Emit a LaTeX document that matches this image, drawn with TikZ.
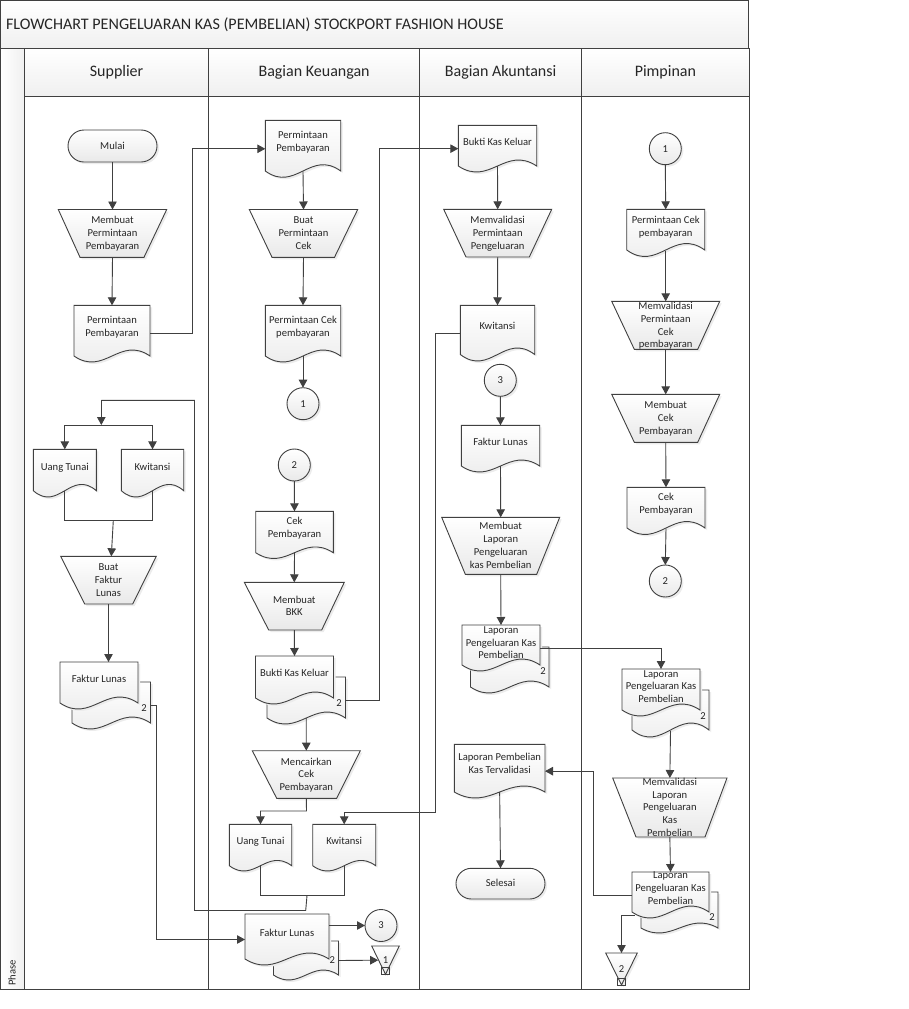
\documentclass[tikz,border=0pt]{standalone}
\usepackage{fontspec}
\setmainfont{Carlito}
\usetikzlibrary{arrows.meta,calc}
\definecolor{linec}{HTML}{404040}
\definecolor{txtc}{HTML}{262626}
\definecolor{shadc}{HTML}{ECECEC}
\definecolor{fillb}{HTML}{E9E9E9}
\tikzset{
  x=1pt,y=-1pt,
  shapeline/.style={draw=linec,line width=0.9pt,top color=white,bottom color=fillb},
  shadowshape/.style={fill=shadc,draw=none},
  box/.style={inner sep=0pt,outer sep=0pt,text=txtc,font=\fontsize{10.6}{12.8}\selectfont},
  band/.style={draw=linec,line width=1.1pt,inner sep=0pt,outer sep=0pt,top color=white,bottom color=fillb!70!white,text=txtc,font=\fontsize{16}{19}\selectfont},
  conn/.style={draw=linec,line width=0.9pt},
  flow/.style={conn,-{Triangle[length=8pt,width=8.5pt]}},
  round shape/.style={box,shapeline,line width=0.9pt},
}
\newcommand\tx[2]{\raisebox{\dimexpr#1pt-3.5pt}[0pt][0pt]{\makebox[0pt]{\begin{tabular}{@{}c@{}}#2\end{tabular}}}}
\newcommand\docout[5]{%
  \pgfmathsetmacro\dw{#2-#1}\pgfmathsetmacro\doff{3.46*(#5-#4)}%
  \pgfmathsetmacro\dca{#1+.6*\dw}\pgfmathsetmacro\dcb{#1+.4*\dw}%
  \pgfmathsetmacro\dya{#4-\doff}\pgfmathsetmacro\dyb{#4+\doff}%
  \fill[shadowshape,shift={(2,2)}] (#1,#3)--(#2,#3)--(#2,#4) .. controls (\dca,\dya) and (\dcb,\dyb) .. (#1,#4)--cycle;
  \path[shapeline] (#1,#3)--(#2,#3)--(#2,#4) .. controls (\dca,\dya) and (\dcb,\dyb) .. (#1,#4)--cycle;
}
% name x0 x1 top yb min textcentre text
\newcommand\docnode[8]{%
  \docout{#2}{#3}{#4}{#5}{#6}%
  \pgfmathsetmacro\ncx{(#2+#3)/2}\pgfmathsetmacro\ncy{(#4+#6)/2}%
  \pgfmathsetmacro\nw{#3-#2}\pgfmathsetmacro\nh{#6-#4}\pgfmathsetmacro\ndy{\ncy-#7}%
  \node[box,minimum width=\nw pt,minimum height=\nh pt] (#1) at (\ncx,\ncy) {\tx{\ndy}{#8}};
}
% name x0 x1 bx0 bx1 top bottom text
\newcommand\trapnode[8]{%
  \fill[shadowshape,shift={(2,2)}] (#2,#6)--(#3,#6)--(#5,#7)--(#4,#7)--cycle;
  \path[shapeline] (#2,#6)--(#3,#6)--(#5,#7)--(#4,#7)--cycle;
  \pgfmathsetmacro\ncx{(#2+#3)/2}\pgfmathsetmacro\ncy{(#6+#7)/2}%
  \pgfmathsetmacro\nw{#3-#2}\pgfmathsetmacro\nh{#7-#6}%
  \node[box,minimum width=\nw pt,minimum height=\nh pt] (#1) at (\ncx,\ncy) {\tx{0}{#8}};
}
% name x0 x1 top bottom boxhalf boxheight text
\newcommand\offnode[8]{%
  \pgfmathsetmacro\ncx{(#2+#3)/2}\pgfmathsetmacro\ncy{(#4+#5)/2}%
  \pgfmathsetmacro\nw{#3-#2}\pgfmathsetmacro\nh{#5-#4}%
  \pgfmathsetmacro\bxa{\ncx-#6}\pgfmathsetmacro\bxb{\ncx+#6}\pgfmathsetmacro\bya{#5-#7}%
  \fill[shadowshape,shift={(2,2)}] (#2,#4)--(#3,#4)--(\ncx,#5)--cycle;
  \path[shapeline] (#2,#4)--(#3,#4)--(\ncx,#5)--cycle;
  \draw[draw=linec,line width=0.9pt] (\bxa,\bya) rectangle (\bxb,#5);
  \node[box,minimum width=\nw pt,minimum height=\nh pt] (#1) at (\ncx,\ncy) {\tx{0}{#8}};
}
\newcommand\termnode[6]{%
  \pgfmathsetmacro\ncx{(#2+#3)/2}\pgfmathsetmacro\ncy{(#4+#5)/2}%
  \pgfmathsetmacro\nw{#3-#2}\pgfmathsetmacro\nh{#5-#4}\pgfmathsetmacro\nr{\nh/2-0.01}%
  \fill[shadowshape,rounded corners=\nr pt,shift={(2,2)}] (#2,#4) rectangle (#3,#5);
  \node[round shape,rounded corners=\nr pt,minimum width=\nw pt,minimum height=\nh pt] (#1) at (\ncx,\ncy) {\tx{0}{#6}};
}
\newcommand\circnode[4]{%
  \fill[shadowshape] (#2+2,#3+2) circle[radius=16];
  \node[round shape,circle,minimum size=32pt] (#1) at (#2,#3) {\tx{0}{#4}};
}
\begin{document}
\begin{tikzpicture}
\useasboundingbox (0,0) rectangle (909,1009);
\fill[white] (0,0) rectangle (909,1009);
% frame
\node[band,anchor=north west,minimum width=748pt,minimum height=48pt] (title) at (0.6,0.4) {};
\node[box,anchor=west,font=\fontsize{16.1}{19}\selectfont] (titletext) at (6,25) {FLOWCHART PENGELUARAN KAS (PEMBELIAN) STOCKPORT FASHION HOUSE};
\node[band,anchor=north west,left color=white,right color=fillb!70!white,minimum width=24pt,minimum height=941pt] (phase) at (0.6,48.4) {};
\node[box,rotate=90,anchor=west] (phasetext) at (12,985.5) {Phase};
\node[band,anchor=north west,minimum width=184pt,minimum height=48pt] (h1) at (24.6,48.4) {\raisebox{-1pt}{Supplier}};
\node[band,anchor=north west,minimum width=211pt,minimum height=48pt] (h2) at (208.6,48.4) {\raisebox{-1pt}{Bagian Keuangan}};
\node[band,anchor=north west,minimum width=162pt,minimum height=48pt] (h3) at (419.6,48.4) {\raisebox{-1pt}{Bagian Akuntansi}};
\node[band,anchor=north west,minimum width=167.6pt,minimum height=48pt] (h4) at (581.6,48.4) {\raisebox{-1pt}{Pimpinan}};
\draw[draw=linec,line width=1.1pt] (24.6,96.4) rectangle (208.6,989.4) (208.6,96.4) rectangle (419.6,989.4) (419.6,96.4) rectangle (581.6,989.4) (581.6,96.4) rectangle (749.2,989.4);
% Supplier
\termnode{smulai}{68}{157}{130}{162}{Mulai}
\trapnode{strap}{58.3}{166.7}{80}{144}{209.5}{257.3}{Membuat\\Permintaan\\Pembayaran}
\docnode{sdoc}{74}{150}{305.3}{356}{362}{326.5}{Permintaan\\Pembayaran}
\docnode{sut}{33.3}{96.3}{449.3}{490.7}{497}{467}{Uang Tunai}
\docnode{skw}{121.3}{183.7}{449.3}{490.7}{497}{467}{Kwitansi}
\trapnode{sbuat}{60.7}{156.3}{84.7}{132.7}{556.3}{604}{Buat\\Faktur\\Lunas}
\docnode{sflb}{72}{150.5}{682}{723}{729}{705}{}
\docnode{sfl}{60}{138}{662}{703}{709}{678.7}{Faktur Lunas}
\node[box] (sfln) at (144,708) {2};
% Keuangan
\docnode{kpp}{265.3}{340.7}{120.3}{171}{177.3}{142}{Permintaan\\Pembayaran}
\trapnode{ktrap}{249.3}{357.7}{272}{334.5}{209.5}{257.3}{Buat\\Permintaan\\Cek}
\docnode{kpc}{265.3}{340.7}{305.3}{356}{362}{326.5}{Permintaan Cek\\pembayaran}
\circnode{kc1}{303}{403.7}{1}
\circnode{kc2}{294.3}{465}{2}
\docnode{kcek}{255.7}{333.3}{511.3}{552.7}{558.5}{528}{Cek\\Pembayaran}
\trapnode{kbkk}{244.3}{344.3}{268.7}{321.7}{582.3}{630}{Membuat\\BKK}
\docnode{kbkb}{267}{345.5}{677}{718}{724}{700}{}
\docnode{kbk}{255.5}{333.5}{656}{698}{704}{673}{Bukti Kas Keluar}
\node[box] (kbkn) at (339,702.7) {2};
\trapnode{kcair}{252.3}{360.3}{276.7}{336.7}{750.7}{798.3}{Mencairkan\\Cek\\Pembayaran}
\docnode{kut}{229.3}{291.7}{824.3}{865.7}{871}{841.5}{Uang Tunai}
\docnode{kkw}{312.7}{375.7}{824.3}{865.7}{871}{841.5}{Kwitansi}
\docnode{kflb}{273.5}{338.5}{941}{975}{980}{960}{}
\docnode{kfl}{245}{329}{914}{959}{965}{932.7}{Faktur Lunas}
\node[box] (kfln) at (332.3,960) {2};
\circnode{kc3}{381}{925.5}{3}
\offnode{koff}{371.7}{399.3}{946}{974.3}{3.8}{6.8}{1}
% Akuntansi
\docnode{abk}{458.3}{536.7}{125.3}{166}{172}{142.3}{Bukti Kas Keluar}
\trapnode{atrap}{443.7}{551.7}{466}{529.3}{209.3}{257}{Memvalidasi\\Permintaan\\Pengeluaran}
\docnode{akw}{460.3}{534.7}{305.3}{354.5}{361}{326}{Kwitansi}
\circnode{ac3}{500.3}{380.3}{3}
\docnode{afl}{461.3}{539.7}{425.3}{466}{472}{442}{Faktur Lunas}
\trapnode{alap}{441.7}{559.7}{465.3}{536.7}{517.3}{574.3}{Membuat\\Laporan\\Pengeluaran\\kas Pembelian}
\docnode{alpb}{470.5}{549}{647}{687}{693}{670}{}
\docnode{alp}{462}{540}{625}{665}{671}{642.7}{Laporan\\Pengeluaran Kas\\Pembelian}
\node[box] (alpn) at (543,671) {2};
\docnode{alv}{454.3}{545}{744.3}{792}{798}{764}{Laporan Pembelian\\Kas Tervalidasi}
\termnode{aend}{456}{545}{868.3}{899}{Selesai}
% Pimpinan
\circnode{pc1}{665.3}{148.7}{1}
\docnode{ppc}{626.7}{704.7}{209.3}{250}{256.5}{226.7}{Permintaan Cek\\pembayaran}
\trapnode{pval}{611.7}{719.7}{634.3}{697.7}{301.3}{349.3}{Memvalidasi\\Permintaan\\Cek\\pembayaran}
\trapnode{pbuat}{611.7}{719.7}{634.3}{697.7}{394.3}{442.3}{Membuat\\Cek\\Pembayaran}
\docnode{pcek}{627}{705}{487.3}{528}{534.5}{504}{Cek\\Pembayaran}
\circnode{pc2}{665.3}{581}{2}
\docnode{plab}{632}{709}{690}{730}{737}{710}{}
\docnode{pla}{622}{700}{669}{710}{716}{686.5}{Laporan\\Pengeluaran Kas\\Pembelian}
\node[box] (plan) at (703,716) {2};
\trapnode{plval}{612.7}{727}{636}{705}{778}{837}{Memvalidasi\\Laporan\\Pengeluaran\\Kas\\Pembelian}
\docnode{plcb}{641}{718}{892}{928}{933}{910}{}
\docnode{plc}{632}{709}{872}{912}{918}{888.3}{Laporan\\Pengeluaran Kas\\Pembelian}
\node[box] (plcn) at (712,917) {2};
\offnode{poff}{605.7}{637.3}{953}{985}{3.8}{7}{2}
% helper points
\coordinate (sbar) at (113.3,520.3);
\coordinate (ssplit) at (101.3,425);
\coordinate (kbar) at (307,895.6);
\coordinate (kbarlow) at (305.7,910.5);
\coordinate (loop) at (194.5,400.3);
\coordinate (kwbus) at (435.7,812.5);
\coordinate (kcairbus) at (306.5,811);
% Supplier connectors
\draw[flow] (smulai.south) -- (strap.north);
\draw[flow] (strap.south) -- (sdoc.north);
\draw[flow] (sdoc.east) -- ++(42,0) |- (kpp.west);
\draw[conn] (kbar) -- (kbarlow) -- (kbarlow -| loop) -- (loop) -- (loop -| ssplit);
\draw[flow] (loop -| ssplit) -- (ssplit);
\draw[flow] (ssplit) -| (sut.north);
\draw[flow] (ssplit) -| (skw.north);
\draw[conn] ([yshift=6pt]sut.south) |- (sbar) -| ([yshift=6pt]skw.south);
\draw[flow] (sbar) -- ([xshift=2.8pt]sbuat.north);
\draw[flow] (sbuat.south) -- (sbuat.south |- sfl.north);
\draw[flow] (sflb.east) -- ++(6,0) |- (kfl.west);
% Keuangan connectors
\draw[flow] ([yshift=6pt]kpp.south) -- (ktrap.north);
\draw[flow] (ktrap.south) -- (kpc.north);
\draw[flow] ([yshift=6pt]kpc.south) -- (kc1.north);
\draw[flow] (kc2.south) -- (kcek.north);
\draw[flow] ([yshift=6pt]kcek.south) -- (kbkk.north);
\draw[flow] (kbkk.south) -- (kbk.north);
\draw[flow] (kbkb.east) -- ++(34,0) |- (abk.west);
\draw[flow] ([yshift=6pt]kbkb.south) -- (kcair.north);
\draw[flow] (kcair.south) -- (kcairbus) -| (kut.north);
\draw[conn] ([yshift=6pt]kut.south) |- (kbar) -| ([yshift=6pt]kkw.south);
\draw[flow] (akw.west) -| (kwbus) -| (kkw.north);
\draw[flow] (kfl.east |- kc3.west) -- (kc3.west);
\draw[flow] (kflb.east) -- ([xshift=6.5pt]koff.west);
% Akuntansi connectors
\draw[flow] ([yshift=6pt]abk.south) -- (atrap.north);
\draw[flow] (atrap.south) -- (akw.north);
\draw[flow] (ac3.south) -- (afl.north);
\draw[flow] ([yshift=6pt]afl.south) -- (alap.north);
\draw[flow] (alap.south) -- (alp.north);
\draw[flow] (alp.east) -| (pla.north);
\draw[flow] ([yshift=6pt]alv.south) -- (aend.north);
% Pimpinan connectors
\draw[flow] (pc1.south) -- (ppc.north);
\draw[flow] ([yshift=6pt]ppc.south) -- (pval.north);
\draw[flow] (pval.south) -- (pbuat.north);
\draw[flow] (pbuat.south) -- (pcek.north);
\draw[flow] ([yshift=6pt]pcek.south) -- (pc2.north);
\draw[flow] ([yshift=6pt]plab.south) -- (plval.north);
\draw[flow] (plval.south) -- (plc.north);
\draw[flow] (plc.west) -- ++(-38.5,0) |- (alv.east);
\draw[flow] ([xshift=2.5pt,yshift=3pt]plc.south west) -| (poff.north);
\end{tikzpicture}
\end{document}
